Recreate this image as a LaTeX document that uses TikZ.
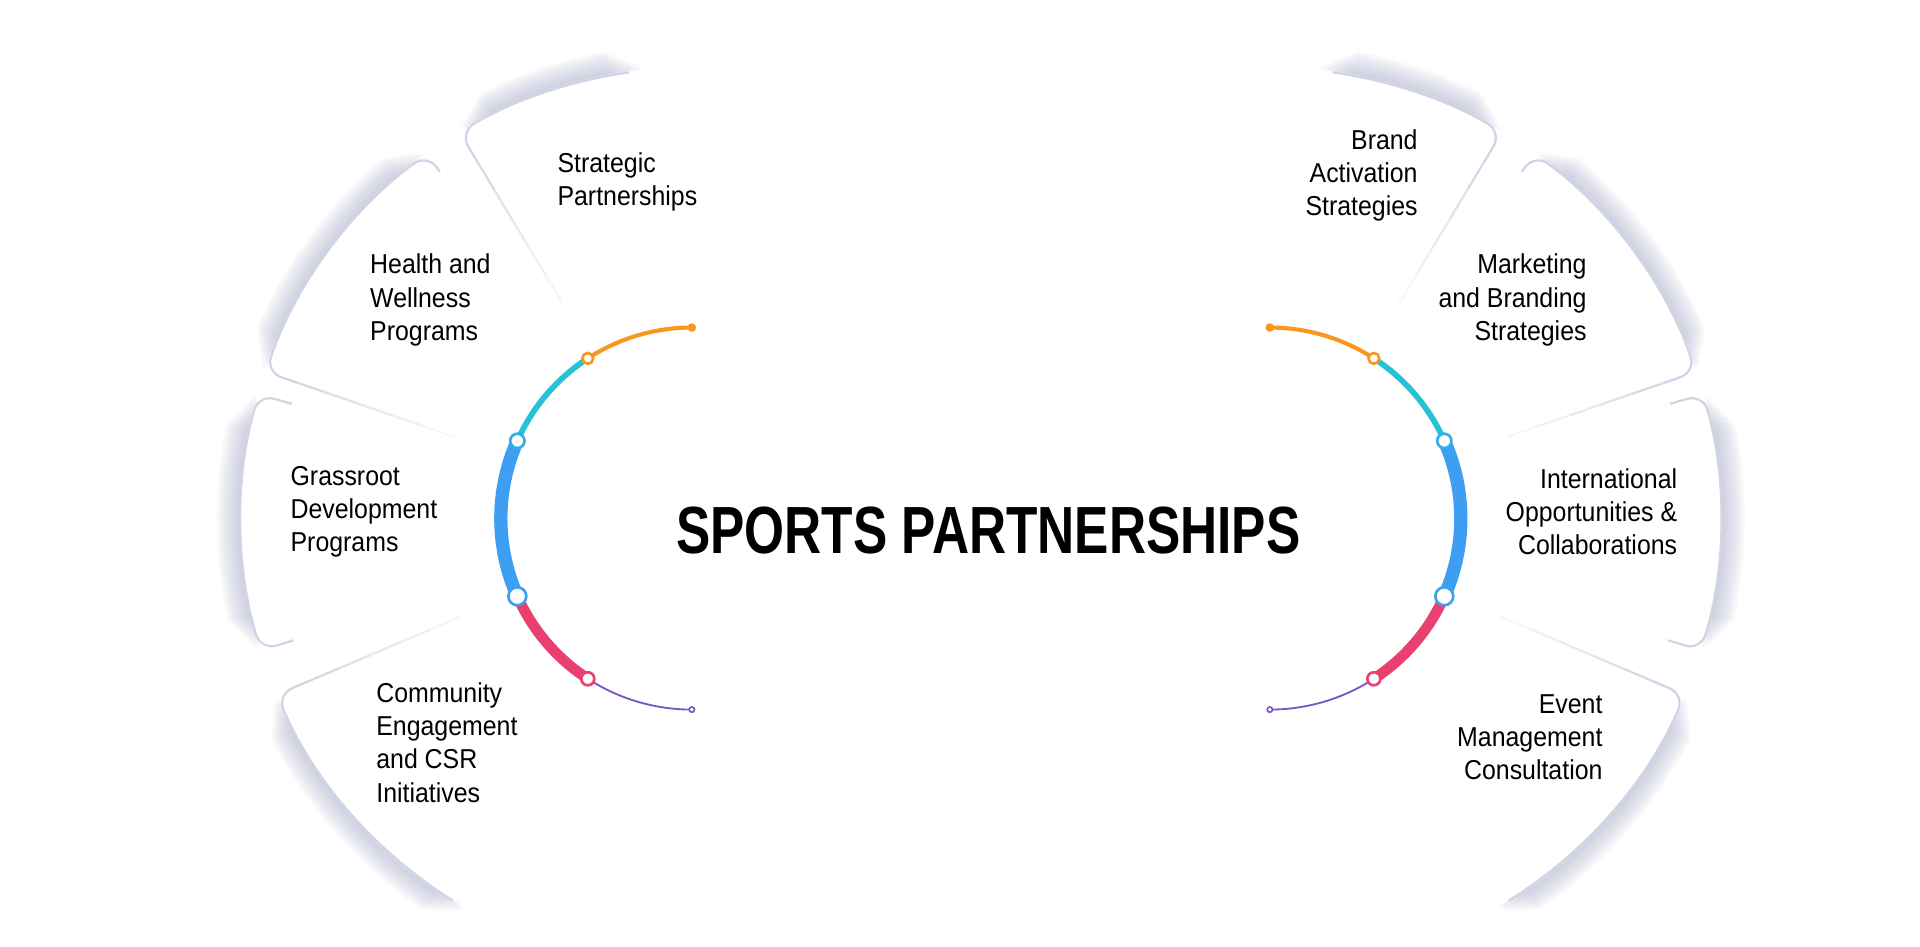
\documentclass[tikz,border=0pt]{standalone}
\usepackage{fontspec}
\setmainfont{Liberation Sans}[FakeStretch=0.91]
\newfontfamily\titlefont{Liberation Sans}[FakeStretch=0.77]
\usepackage{tikz}

\definecolor{arcorange}{HTML}{F9961E}
\definecolor{arccyan}{HTML}{26C2D6}
\definecolor{arcblue}{HTML}{3E9EF2}
\definecolor{arcpink}{HTML}{E9406F}
\definecolor{arcpurple}{HTML}{7B55C8}
\definecolor{cardshadow}{HTML}{A9ABCC}
\definecolor{cardedge}{HTML}{D2D3E4}

\begin{document}
\begin{tikzpicture}[
  x=0.6pt, y=0.6pt,
  itemtext/.style={font=\fontsize{13.4}{16.2}\selectfont, inner sep=0pt},
  lefttext/.style={itemtext, anchor=west, align=left},
  righttext/.style={itemtext, anchor=east, align=right},
  edgeline/.style={cardedge, line width=1.1pt},
  ring/.style={circle, draw=#1, fill=white, line width=1.3pt, inner sep=0pt},
  enddot/.style={circle, fill=#1, inner sep=0pt}
]
\useasboundingbox[fill=white] (0,0) rectangle (1568,773);
\coordinate (Lc) at (565,349.5);
\coordinate (Rc) at (1037,349.5);

% soft shadows of the cards
\foreach \c/\a/\b in {Lc/96/121, Lc/126/161, Lc/164/197, Lc/203/240,
                      Rc/59/84, Rc/19/54, Rc/-17/16, Rc/-60/-23}
  \foreach \w [count=\k] in {2.4,4.8,...,24}
    \draw[cardshadow, line width=\w pt, opacity=0.07, shift={(\c)}]
      ({\a+0.5*\k}:370) arc[start angle=\a+0.5*\k, end angle=\b-0.5*\k, radius=370];

% the cards
\foreach \c/\a/\b in {Lc/92/121, Lc/126/161, Lc/164/197, Lc/203/240,
                      Rc/59/88, Rc/19/54, Rc/-17/16, Rc/-60/-23}
  \fill[white, rounded corners=8pt, shift={(\c)}]
    (\a:205) -- (\a:368) arc[start angle=\a, end angle=\b, radius=368]
    -- (\b:205) arc[start angle=\b, end angle=\a, radius=205] -- cycle;

% outer borders of the cards
\draw[edgeline, rounded corners=8pt, shift={(Lc)}] (121:340) -- (121:368) arc[start angle=121, end angle=98, radius=368];
\draw[edgeline, rounded corners=8pt, shift={(Lc)}] (161:340) -- (161:368) arc[start angle=161, end angle=126, radius=368] -- (126:350);
\draw[edgeline, rounded corners=8pt, shift={(Lc)}] (164:340) -- (164:368) arc[start angle=164, end angle=197, radius=368] -- (197:340);
\draw[edgeline, rounded corners=8pt, shift={(Lc)}] (203:340) -- (203:368) arc[start angle=203, end angle=238, radius=368];
\draw[edgeline, rounded corners=8pt, shift={(Rc)}] (59:340) -- (59:368) arc[start angle=59, end angle=82, radius=368];
\draw[edgeline, rounded corners=8pt, shift={(Rc)}] (19:340) -- (19:368) arc[start angle=19, end angle=54, radius=368] -- (54:350);
\draw[edgeline, rounded corners=8pt, shift={(Rc)}] (16:340) -- (16:368) arc[start angle=16, end angle=-17, radius=368] -- (-17:340);
\draw[edgeline, rounded corners=8pt, shift={(Rc)}] (-23:340) -- (-23:368) arc[start angle=-23, end angle=-58, radius=368];

% side edges fading towards the middle
\foreach \c/\a in {Lc/121, Lc/161, Lc/203, Rc/59, Rc/19, Rc/-23}
  \foreach \r/\o in {205/0.2, 232/0.35, 259/0.5, 286/0.65, 313/0.85}
    \draw[edgeline, opacity=\o, shift={(\c)}] (\a:\r) -- (\a:\r+27);

% coloured half rings
\foreach \a/\b/\col/\w in {90/123/arcorange/2, 123/156/arccyan/2.8, 156/204/arcblue/6.5,
                            204/237/arcpink/5.2, 237/270/arcpurple/0.9} {
  \draw[\col, line width=\w pt] ([shift={(\a:156)}]Lc) arc[start angle=\a, end angle=\b, radius=156];
  \draw[\col, line width=\w pt] ([shift={({180-\a}:156)}]Rc) arc[start angle=180-\a, end angle=180-\b, radius=156];
}
\foreach \a/\col/\s/\n in {123/arcorange/5.3/a, 156/arccyan!50!arcblue/7/b,
                            204/arcblue/8.8/c, 237/arcpink/6.4/d} {
  \node[ring=\col, minimum size=\s pt] (left\n) at ([shift={(\a:156)}]Lc) {};
  \node[ring=\col, minimum size=\s pt] (right\n) at ([shift={({180-\a}:156)}]Rc) {};
}
\node[enddot=arcorange, minimum size=4.2pt] (lefttop) at ([shift={(90:156)}]Lc) {};
\node[enddot=arcorange, minimum size=4.2pt] (righttop) at ([shift={(90:156)}]Rc) {};
\node[ring=arcpurple, line width=0.8pt, minimum size=2.6pt] (leftbottom) at ([shift={(270:156)}]Lc) {};
\node[ring=arcpurple, line width=0.8pt, minimum size=2.6pt] (rightbottom) at ([shift={(270:156)}]Rc) {};

% texts
\node[font={\titlefont\bfseries\fontsize{32.7}{36}\selectfont}, inner sep=0pt] (title) at (807,340) {SPORTS PARTNERSHIPS};

\node[lefttext] (strategic) at (455,624.5) {Strategic\\Partnerships};
\node[lefttext] (health) at (302,528) {Health and\\Wellness\\Programs};
\node[lefttext] (grassroot) at (237,355) {Grassroot\\Development\\Programs};
\node[lefttext] (community) at (307,166.5) {Community\\Engagement\\and CSR\\Initiatives};

\node[righttext] (brand) at (1158,630) {Brand\\Activation\\Strategies};
\node[righttext] (marketing) at (1296,528) {Marketing\\and Branding\\Strategies};
\node[righttext] (international) at (1370,355) {International\\Opportunities \&\\Collaborations};
\node[righttext] (event) at (1309,171) {Event\\Management\\Consultation};
\end{tikzpicture}
\end{document}
